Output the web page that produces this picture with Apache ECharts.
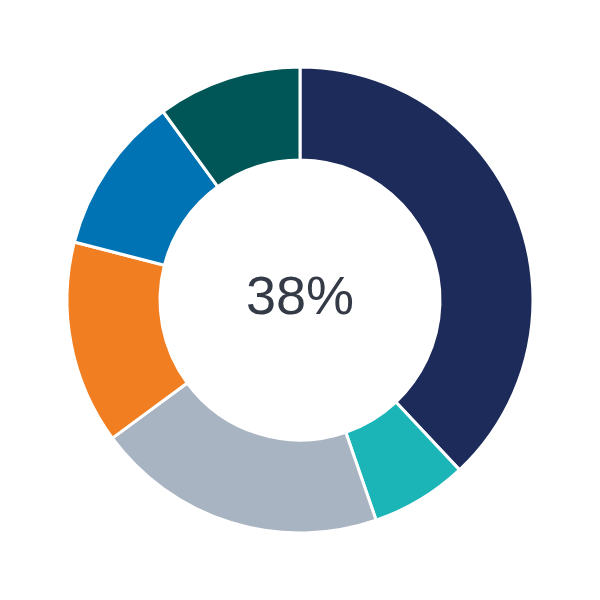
<!DOCTYPE html>
<html>
<head>
<meta charset="utf-8">
<script src="https://cdn.jsdelivr.net/npm/echarts@6/dist/echarts.min.js"></script>
<style>
html,body{margin:0;padding:0;background:#fff;}
#main{width:600px;height:600px;}
</style>
</head>
<body>
<div id="main"></div>
<script>
// slices clockwise from 12 o'clock
var names=['A','B','C','D','E','F'];
var values=[38,6.7,20.2,14.1,11,10];
var colors=['#1c2b5a','#1bb5b7','#a9b4c2','#f17e21','#0073b4','#005656'];
var centerLabel='38%';

var chart=echarts.init(document.getElementById('main'));
var data=[];
for(var i=0;i<names.length;i++){
    data.push({name:names[i],value:values[i],itemStyle:{color:colors[i]}});
}
chart.setOption({
    animation:false,
    graphic:[{
        type:'text',
        left:'center',
        top:272,
        style:{
            text:centerLabel,
            font:'54px "Liberation Sans", Arial, sans-serif',
            fill:'#343a46'
        }
    }],
    series:[{
        type:'pie',
        center:[300,300],
        radius:[140,233],
        startAngle:90,
        clockwise:true,
        label:{show:false},
        labelLine:{show:false},
        itemStyle:{borderColor:'#fff',borderWidth:3},
        data:data
    }]
});
</script>
</body>
</html>
